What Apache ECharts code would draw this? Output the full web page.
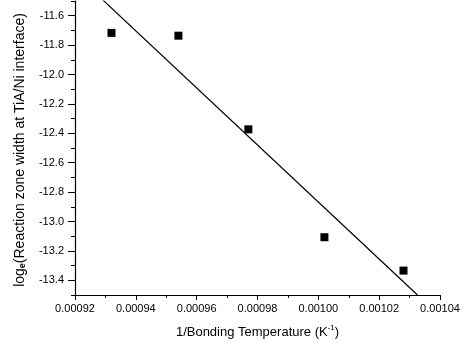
<!DOCTYPE html>
<html><head><meta charset="utf-8">
<script src="https://cdn.jsdelivr.net/npm/echarts@6/dist/echarts.min.js"></script>
<style>html,body{margin:0;padding:0;background:#fff}#c{width:474px;height:355px}</style>
</head><body><div id="c"></div>
<script>
// Data
const invTemp = [0.000932, 0.000954, 0.000977, 0.001002, 0.001028];
const logWidth = [-11.717, -11.736, -12.373, -13.107, -13.334];
const fitX = [0.000929, 0.0010326];
const fitY = [-11.49, -13.5];
const yTickLabels = [-13.4, -13.2, -13.0, -12.8, -12.6, -12.4, -12.2, -12.0, -11.8, -11.6];
const xTickLabels = ['0.00092','0.00094','0.00096','0.00098','0.00100','0.00102','0.00104'];

const font = 'Liberation Sans, Arial, sans-serif';
const chart = echarts.init(document.getElementById('c'));
chart.setOption({
  animation: false,
  backgroundColor: '#fff',
  grid: { left: 75, top: 1, right: 34, bottom: 60 },
  xAxis: {
    type: 'value', min: 0.00092, max: 0.00104, interval: 0.00002,
    axisLine: { lineStyle: { color: '#000', width: 1.2 } },
    axisTick: { show: true, inside: false, length: 5, lineStyle: { color: '#000' } },
    minorTick: { show: true, splitNumber: 2, length: 3, lineStyle: { color: '#000' } },
    splitLine: { show: false },
    axisLabel: { color: '#000', fontSize: 11, fontFamily: font, margin: 8,
      formatter: (v, i) => xTickLabels[i] !== undefined ? xTickLabels[i] : v.toFixed(5) },
    name: '1/Bonding Temperature (K{s|-1})',
    nameLocation: 'middle', nameGap: 29,
    nameTextStyle: { color: '#000', fontSize: 13, fontFamily: font,
      rich: { s: { fontSize: 8, verticalAlign: 'top', padding: [0,0,8,0], fontFamily: font, color: '#000' } } }
  },
  yAxis: [{
    type: 'value', min: -13.5, max: -11.5, interval: 0.1,
    axisLine: { show: true, lineStyle: { color: '#000', width: 1.2 } },
    axisTick: { show: true, inside: false, length: 4, lineStyle: { color: '#000' } },
    splitLine: { show: false },
    axisLabel: { color: '#000', fontSize: 11, fontFamily: font, margin: 11,
      formatter: v => {
        const k = Math.round(v * 10);
        return (Math.abs(k) % 2 === 0 && yTickLabels.some(t => Math.round(t*10) === k)) ? (k/10).toFixed(1) : '';
      } }
  }, {
    type: 'value', min: -13.5, max: -11.5, position: 'left',
    axisLine: { show: false },
    axisTick: { show: true, inside: false, length: 7, customValues: yTickLabels, lineStyle: { color: '#000' } },
    axisLabel: { show: false },
    splitLine: { show: false }
  }],
  series: [{
    type: 'scatter', yAxisIndex: 0, symbol: 'rect', symbolSize: 8,
    itemStyle: { color: '#000', opacity: 1 },
    data: invTemp.map((x, i) => [x, logWidth[i]])
  }, {
    type: 'line', yAxisIndex: 0, symbol: 'none',
    lineStyle: { color: '#000', width: 1.2 },
    data: fitX.map((x, i) => [x, fitY[i]])
  }]
});
// y axis title as rotated rich text
chart.setOption({
  graphic: [{
    type: 'text', x: 20, y: 150, rotation: Math.PI/2,
    style: {
      text: 'log{s|e}(Reaction zone width at TiA/Ni interface)',
      font: '14px ' + font, fill: '#000', align: 'center', verticalAlign: 'middle',
      rich: { s: { font: 'bold 9px ' + font, fill: '#000', verticalAlign: 'bottom', padding: [6,0,0,0] } }
    }
  }]
});
</script></body></html>
